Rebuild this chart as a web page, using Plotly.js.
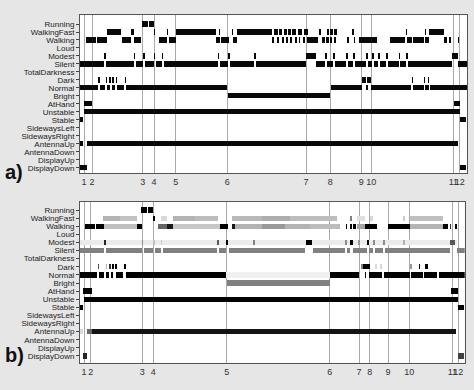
<!DOCTYPE html>
<html>
<head>
<meta charset="utf-8">
<script src="https://cdn.plot.ly/plotly-3.0.1.min.js"></script>
<style>html,body{margin:0;padding:0;background:#e6e6e6;}#chart{width:474px;height:390px;}</style>
</head>
<body>
<div id="chart"></div>
<script>
// Context rows (top to bottom)
const rows = ['Running','WalkingFast','Walking','Loud','Modest','Silent','TotalDarkness','Dark','Normal','Bright','AtHand','Unstable','Stable','SidewaysLeft','SidewaysRight','AntennaUp','AntennaDown','DisplayUp','DisplayDown'];

// Event markers (time positions) and their labels
const markerLabels = ['1','2','3','4','5','6','7','8','9','10','11','12'];
const markersA = [84, 92, 142.7, 154, 175.7, 227.3, 306, 330.3, 361.3, 371.3, 453.3, 459.7];
const markersB = [84, 90.7, 142.3, 153.3, 226.7, 329.7, 359, 369.7, 388, 409.3, 452.3, 458.3];

// ---- Panel a) : active intervals [start, end] per context ----
const aRunning = [[142,147.5],[149,154]];
const aWalkingFast = [[107.3,121],[131,133.7],[154.3,155.3],[166.7,168],[176,216],[219,220.3],[232,233.3],[236.7,271.5],[274.3,277.7],[279,282.3],[283.7,287],[288.3,291],[292.3,296.3],[298.3,302.3],[303.7,307.7],[318.5,320.7],[326.5,328.8],[330.2,332.5],[334,336.8],[351.5,353.8],[406,407.2],[424.7,425.8],[429,444]];
const aWalking = [[86,95.5],[96.7,107.3],[121.5,130.5],[134.2,141],[158.5,166.7],[168.5,175.7],[216.3,220],[221,228.5],[233.3,236.5],[272.3,274.3],[277,279],[281.5,283.5],[285.5,287.5],[289.7,291.7],[295,296.8],[298.5,300],[302.5,305],[306.5,318],[321.5,325.3],[326.3,328.7],[330.3,332],[334.3,336.3],[347,348.7],[353.7,355.3],[358.7,377],[389.7,405.3],[407,412],[413,423.7],[425.3,428.7],[444.3,447],[448.7,451],[457.7,459.3]];
const aLoud = [];
const aModest = [[104.3,106],[134,135.3],[143.3,144.7],[154,155.3],[162,163.3],[218,219.3],[227.7,230],[254.3,255.7],[306,315.5],[325.3,327],[332.7,334.7],[346.3,348],[353,355],[366.3,367.7],[372,373.7],[378,379.7],[385.7,387.7],[398.7,400.3],[406.3,408.3],[452,457.7]];
const aSilent = [[80,104],[106,134],[135.7,143.3],[145,154],[155.7,162],[163.7,218],[219.7,227.7],[230,254.3],[256,306],[315.7,325.3],[327,332.7],[335.3,346.3],[348,353],[355.3,366.3],[368,372],[373.7,378],[379.7,385.7],[388,398.7],[400.3,406.3],[408.3,452],[457.7,467]];
const aTotalDarkness = [];
const aDark = [[98.3,100],[105.7,107.3],[109,110.7],[112.3,114],[115.7,117.3],[124.7,126.3],[361.7,365.7],[367,371],[411.7,413],[423.7,425],[427.7,429]];
const aNormal = [[80,97.7],[100,105],[106.7,110],[111.7,115],[116.7,124],[126,227.3],[331.3,362],[366.3,367.7],[371.3,411.3],[413,423.7],[425.3,428.7],[430.3,467]];
const aBright = [[227.7,330.3]];
const aAtHand = [[84.3,91.7],[453.7,459.7]];
const aUnstable = [[84,459.7]];
const aStable = [[80,83.3],[460.3,466.3]];
const aSidewaysLeft = [];
const aSidewaysRight = [];
const aAntennaUp = [[80,82.7],[87.3,458]];
const aAntennaDown = [];
const aDisplayUp = [];
const aDisplayDown = [[80,87.3],[460.3,466.3]];

// ---- Panel b) : intervals [start, end, strength 0..1] per context ----
const bRunning = [[141,146.7,1],[148.3,152.7,1]];
const bWalkingFast = [[103.3,120,0.3],[120,136.7,0.24],[152.7,155,1],[161,166.7,0.15],[173.3,195,0.3],[195,218.3,0.26],[231.7,262,0.28],[262,290,0.32],[290,337,0.26],[350,352.3,0.5],[357.3,365,0.12],[370,373.3,0.15],[403.3,405,0.2],[410,443.3,0.25]];
const bWalking = [[85,95,1],[96,104.3,1],[104.3,136.7,0.25],[136.7,141.7,1],[158.3,166.7,0.6],[166.7,173.3,0.9],[173.3,220,0.22],[220,228.3,1],[231.7,235,0.9],[235,262,0.3],[262,285,0.4],[285,310,0.3],[310,340,0.26],[346,347.3,1],[350,351.7,1],[353.3,356,1],[356.7,365,0.35],[365,376.7,1],[388.3,410,1],[410,443.3,0.3],[443.3,448.3,1],[449.5,450.5,0.8],[455,457.3,1]];
const bLoud = [];
const bModest = [[80,457,0.08],[104.3,105.7,0.85],[141.7,143.3,0.45],[153.3,155,0.25],[161,162.3,0.2],[216.7,219,0.65],[226,228.3,1],[253.3,255,0.5],[306,311.7,1],[345,346.7,0.45],[350,352.7,1],[358.3,360,0.4],[366.7,369,1],[373.3,375,0.45],[383.3,385,0.45],[403.3,405,0.3],[450,455,0.65]];
const bSilent = [[80,104,0.5],[105.8,141.5,0.5],[143.5,153,0.5],[155,161,0.5],[162.5,216.5,0.5],[219.2,226,0.5],[228.5,305,0.5],[313.3,345,0.5],[347,350,0.5],[352.7,366.5,0.5],[369,373.3,0.5],[375,383.3,0.5],[385,450,0.5],[456.7,464.7,0.5]];
const bTotalDarkness = [];
const bDark = [[97.7,99,0.7],[106,107,0.3],[109.3,111,0.8],[112,113.7,1],[115,116.7,1],[124,125.7,1],[361.3,363,0.5],[363,369.7,1],[375,377,0.15],[380,382,0.15],[410.3,412,0.4],[418.7,420.3,1],[425.3,427.7,1]];
const bNormal = [[80,96.7,1],[99,104,1],[106,109.3,1],[111.3,113.3,1],[116.3,123.3,1],[125.7,226,1],[226,329.7,0.06],[329.7,358.7,1],[364.7,366.3,1],[368.7,382,1],[383.7,410.3,1],[411,423,1],[424.3,437,1],[438.7,464.7,1]];
const bBright = [[226.7,329.7,0.5]];
const bAtHand = [[83.3,91.7,1],[451.3,457.7,1]];
const bUnstable = [[84,457.7,1]];
const bStable = [[80,83.3,1],[457.7,463.7,1]];
const bSidewaysLeft = [];
const bSidewaysRight = [];
const bAntennaUp = [[80,82.7,0.15],[87.3,91.7,0.6],[91.7,456,0.92]];
const bAntennaDown = [];
const bDisplayUp = [];
const bDisplayDown = [[83.3,87.3,0.85],[458,463.7,0.75]];

const segA = [aRunning,aWalkingFast,aWalking,aLoud,aModest,aSilent,aTotalDarkness,aDark,aNormal,aBright,aAtHand,aUnstable,aStable,aSidewaysLeft,aSidewaysRight,aAntennaUp,aAntennaDown,aDisplayUp,aDisplayDown];
const segB = [bRunning,bWalkingFast,bWalking,bLoud,bModest,bSilent,bTotalDarkness,bDark,bNormal,bBright,bAtHand,bUnstable,bStable,bSidewaysLeft,bSidewaysRight,bAntennaUp,bAntennaDown,bDisplayUp,bDisplayDown];

function buildTrace(segs, xa, ya) {
  const y = [], x = [], base = [], color = [];
  segs.forEach((list, i) => {
    list.forEach(s => {
      y.push(rows[i]);
      base.push(s[0]);
      x.push(s[1] - s[0]);
      const lv = s.length > 2 ? s[2] : 0.97;
      const g = Math.round(255 * (1 - lv));
      color.push('rgb(' + g + ',' + g + ',' + g + ')');
    });
  });
  return {type: 'bar', orientation: 'h', y: y, x: x, base: base, width: 0.65,
    marker: {color: color, line: {width: 0}}, xaxis: xa, yaxis: ya,
    hoverinfo: 'skip', showlegend: false};
}

const W = 474, H = 390;
const font = {family: 'Liberation Sans, Arial, sans-serif', size: 8, color: '#222'};

function xAxis(domain, range, markers, anchor) {
  return {domain: domain, range: range, anchor: anchor, tickmode: 'array',
    tickvals: markers, ticktext: markerLabels, tickangle: 0,
    showgrid: true, gridcolor: '#a9a9a9', gridwidth: 1, zeroline: false,
    showline: true, mirror: true, linecolor: '#555', linewidth: 1,
    ticks: '', tickfont: {family: font.family, size: 9, color: '#333'}, fixedrange: true};
}
function yAxis(domain, range, anchor) {
  return {domain: domain, range: range, anchor: anchor, type: 'category',
    categoryarray: rows, tickmode: 'array', tickvals: rows, ticktext: rows,
    showgrid: false, zeroline: false, showline: true, mirror: true,
    linecolor: '#555', linewidth: 1, ticks: 'outside', ticklen: 3,
    tickcolor: '#444', tickfont: font, fixedrange: true};
}

const layout = {
  width: W, height: H,
  margin: {l: 0, r: 0, t: 0, b: 0},
  paper_bgcolor: '#e6e6e6', plot_bgcolor: '#ffffff',
  barmode: 'overlay', bargap: 0,
  font: font,
  xaxis: xAxis([80 / W, 467 / W], [80, 467], markersA, 'y'),
  yaxis: yAxis([1 - 173.3 / H, 1 - 15 / H], [18.7, -1.13], 'x'),
  xaxis2: xAxis([80 / W, 464.7 / W], [80, 464.7], markersB, 'y2'),
  yaxis2: yAxis([1 - 362.7 / H, 1 - 202 / H], [18.83, -0.99], 'x2'),
  annotations: [
    {text: '<b>a)</b>', xref: 'paper', yref: 'paper', x: 14 / W, y: 1 - 172 / H,
     xanchor: 'center', yanchor: 'middle', showarrow: false,
     font: {family: font.family, size: 20, color: '#111'}},
    {text: '<b>b)</b>', xref: 'paper', yref: 'paper', x: 14 / W, y: 1 - 355 / H,
     xanchor: 'center', yanchor: 'middle', showarrow: false,
     font: {family: font.family, size: 20, color: '#111'}}
  ]
};

Plotly.newPlot('chart', [buildTrace(segA, 'x', 'y'), buildTrace(segB, 'x2', 'y2')], layout,
  {displayModeBar: false, staticPlot: true});
</script>
</body>
</html>
